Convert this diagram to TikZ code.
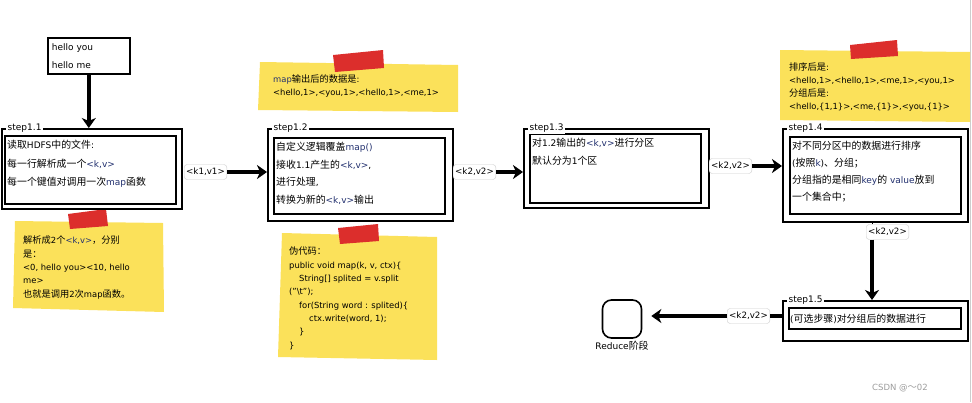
\documentclass[tikz,border=0pt]{standalone}
\usepackage{fontspec}
\setmainfont{DejaVu Sans}
\newfontfamily\zhfont[Scale=1.1]{Noto Sans CJK SC}
\usetikzlibrary{arrows.meta, positioning}
\definecolor{NoteYellow}{HTML}{FBE15A}
\definecolor{TapeRed}{HTML}{DC2E2C}
\definecolor{TagGray}{HTML}{CDCDCD}
\definecolor{MarkGray}{HTML}{9C9C9C}
\definecolor{KeyBlue}{HTML}{22306E}
\newcommand{\zh}[1]{{\zhfont #1}}
\newcommand{\kvpair}{\textcolor{KeyBlue}{<k,v>}}

\tikzset{
    outerbox/.style={draw, line width=2pt, inner sep=0pt, anchor=north west},
    innerbox/.style={draw, line width=2.2pt, inner sep=0pt, anchor=north west},
    steplabel/.style={fill=white, inner sep=1.5pt, anchor=west, font=\fontsize{9}{10}\selectfont},
    boxtext/.style={align=left, inner sep=2pt, anchor=north west, font=\fontsize{9}{17.5}\selectfont},
    notetext/.style={align=left, inner sep=0pt, anchor=north west, font=\fontsize{8.4}{13.3}\selectfont},
    tag/.style={draw=TagGray, fill=white, rounded corners=3pt, inner sep=2pt, anchor=west,
        minimum height=15pt, font=\fontsize{8.7}{9}\selectfont},
    flow/.style={line width=3.5pt, -{Stealth[length=10pt, width=14pt, inset=3pt]}},
    note/.style={fill=NoteYellow},
    tape/.style={fill=TapeRed}
}

\begin{document}
\begin{tikzpicture}[x=1pt, y=-1pt]
\useasboundingbox (0,0) rectangle (972,402);
\draw[TagGray, line width=0.8pt] (970,0) -- (970,402);

% sticky notes
\fill[note] (15,221) -- (163,223) -- (164,312) -- (13,308) -- cycle;
\fill[tape] (68,214) -- (106,209) -- (108,226) -- (70,229) -- cycle;
\fill[note] (260,62) -- (458,65) -- (458,112) -- (258,110) -- cycle;
\fill[tape] (333,55) -- (383,50) -- (384,68) -- (335,72) -- cycle;
\fill[note] (282,233) -- (437,237) -- (437,360) -- (278,357) -- cycle;
\fill[tape] (338,228) -- (378,224) -- (379,241) -- (340,244) -- cycle;
\fill[note] (780,50) -- (970,52) -- (970,122) -- (780,120) -- cycle;
\fill[tape] (850,45) -- (897,40) -- (898,56) -- (851,59) -- cycle;

\node[notetext] (n1) at (23,236) {%
    \zh{解析成}2\zh{个}\kvpair\zh{，分别}\\
    \zh{是：}\\
    <0, hello you><10, hello\\
    me>\\
    \zh{也就是调用}2\zh{次}map\zh{函数。}};
\node[notetext] (n2) at (273,74) {%
    \textcolor{KeyBlue}{map}\zh{输出后的数据是}:\\
    <hello,1>,<you,1>,<hello,1>,<me,1>};
\node[notetext] (n3) at (289,247) {%
    \zh{伪代码：}\\
    public void map(k, v, ctx)\{\\
    \hspace*{10pt}String[] splited = v.split\\
    ("\textbackslash t");\\
    \hspace*{10pt}for(String word : splited)\{\\
    \hspace*{20pt}ctx.write(word, 1);\\
    \hspace*{10pt}\}\\
    \}};
\node[notetext] (n4) at (789,62) {%
    \zh{排序后是}:\\
    <hello,1>,<hello,1>,<me,1>,<you,1>\\
    \zh{分组后是}:\\
    <hello,\{1,1\}>,<me,\{1\}>,<you,\{1\}>};

% input
\node[draw, line width=1.6pt, anchor=north west, minimum width=82pt, minimum height=36pt,
    text width=74pt, inner sep=4pt, align=left, font=\fontsize{9}{18}\selectfont]
    (input) at (47,37) {hello you\\hello me};

% step1.1
\node[outerbox, minimum width=180pt, minimum height=80pt] (s11) at (1,128) {};
\node[innerbox, minimum width=171pt, minimum height=68pt] (s11in) at (4,135) {};
\node[steplabel] (s11lab) at ([xshift=5pt]s11.north west) {step1.1};
\node[boxtext, font=\fontsize{9}{18.5}\selectfont] (s11txt) at ([xshift=1pt, yshift=-3pt]s11in.north west) {%
    \zh{读取}HDFS\zh{中的文件}:\\
    \zh{每一行解析成一个}\kvpair\\
    \zh{每一个键值对调用一次}\textcolor{KeyBlue}{map}\zh{函数}};

% step1.2
\node[outerbox, minimum width=185pt, minimum height=92pt] (s12) at (267,128) {};
\node[innerbox, minimum width=171pt, minimum height=76pt] (s12in) at (273,137) {};
\node[steplabel] (s12lab) at ([xshift=5pt]s12.north west) {step1.2};
\node[boxtext] (s12txt) at ([xshift=1pt, yshift=-3pt]s12in.north west) {%
    \zh{自定义逻辑覆盖}\textcolor{KeyBlue}{map()}\\
    \zh{接收}1.1\zh{产生的}\kvpair,\\
    \zh{进行处理},\\
    \zh{转换为新的}\kvpair\zh{输出}};

% step1.3
\node[outerbox, minimum width=185pt, minimum height=79pt] (s13) at (523,128) {};
\node[innerbox, minimum width=171pt, minimum height=69pt] (s13in) at (529,133) {};
\node[steplabel] (s13lab) at ([xshift=5pt]s13.north west) {step1.3};
\node[boxtext] (s13txt) at ([xshift=1pt, yshift=-3pt]s13in.north west) {%
    \zh{对}1.2\zh{输出的}\kvpair\zh{进行分区}\\
    \zh{默认分为}1\zh{个区}};

% step1.4
\node[outerbox, minimum width=185pt, minimum height=93pt] (s14) at (782,128) {};
\node[innerbox, minimum width=171pt, minimum height=77pt] (s14in) at (789,136) {};
\node[steplabel] (s14lab) at ([xshift=5pt]s14.north west) {step1.4};
\node[boxtext, font=\fontsize{9}{17}\selectfont] (s14txt) at ([xshift=1pt, yshift=-3pt]s14in.north west) {%
    \zh{对不同分区中的数据进行排序}\\
    (\zh{按照}\textcolor{KeyBlue}{k})\zh{、分组；}\\
    \zh{分组指的是相同}\textcolor{KeyBlue}{key}\zh{的} \textcolor{KeyBlue}{value}\zh{放到}\\
    \zh{一个集合中；}};

% step1.5
\node[outerbox, minimum width=185pt, minimum height=40pt] (s15) at (782,300) {};
\node[innerbox, minimum width=172pt, minimum height=21pt] (s15in) at (788,307) {};
\node[steplabel] (s15lab) at ([xshift=5pt]s15.north west) {step1.5};
\node[boxtext, anchor=west] (s15txt) at (s15in.west) {(\zh{可选步骤})\zh{对分组后的数据进行}};

% reduce
\node[draw, line width=1.6pt, rounded corners=9pt, minimum width=39pt, minimum height=38pt] (reduce) at (622,319) {};
\node[below=1pt of reduce, inner sep=1pt, font=\fontsize{9}{10}\selectfont] (reducelab) {Reduce\zh{阶段}};

% tags
\node[tag] (t1) at (184,172) {<k1,v1>};
\node[tag] (t2) at (453,172) {<k2,v2>};
\node[tag] (t3) at (709,166) {<k2,v2>};
\node[tag] (t4) at (866,232) {<k2,v2>};
\node[tag] (t5) at (727,316) {<k2,v2>};
\coordinate (t4foot) at ([xshift=6pt]t4.south west);

% connectors
\draw[flow] (input.south) -- (input.south |- s11.north);
\draw[flow] (t1.east) -- (t1.east -| s12.west);
\draw[flow] (t2.east) -- (t2.east -| s13.west);
\draw[flow] (t3.east) -- (t3.east -| s14.west);
\draw[line width=1pt] (t4foot |- s14.south) -- (t4foot |- t4.north);
\draw[flow] (t4foot) -- (t4foot |- s15.north);
\draw[line width=3.5pt] (t5.east) -- (t5.east -| s15.west);
\draw[flow, shorten >=9pt] (t5.west) -- (t5.west -| reduce.east);

\node[text=MarkGray, font=\fontsize{8.5}{9}\selectfont] (mark) at (900,388) {CSDN @\zh{～}02};
\end{tikzpicture}
\end{document}
